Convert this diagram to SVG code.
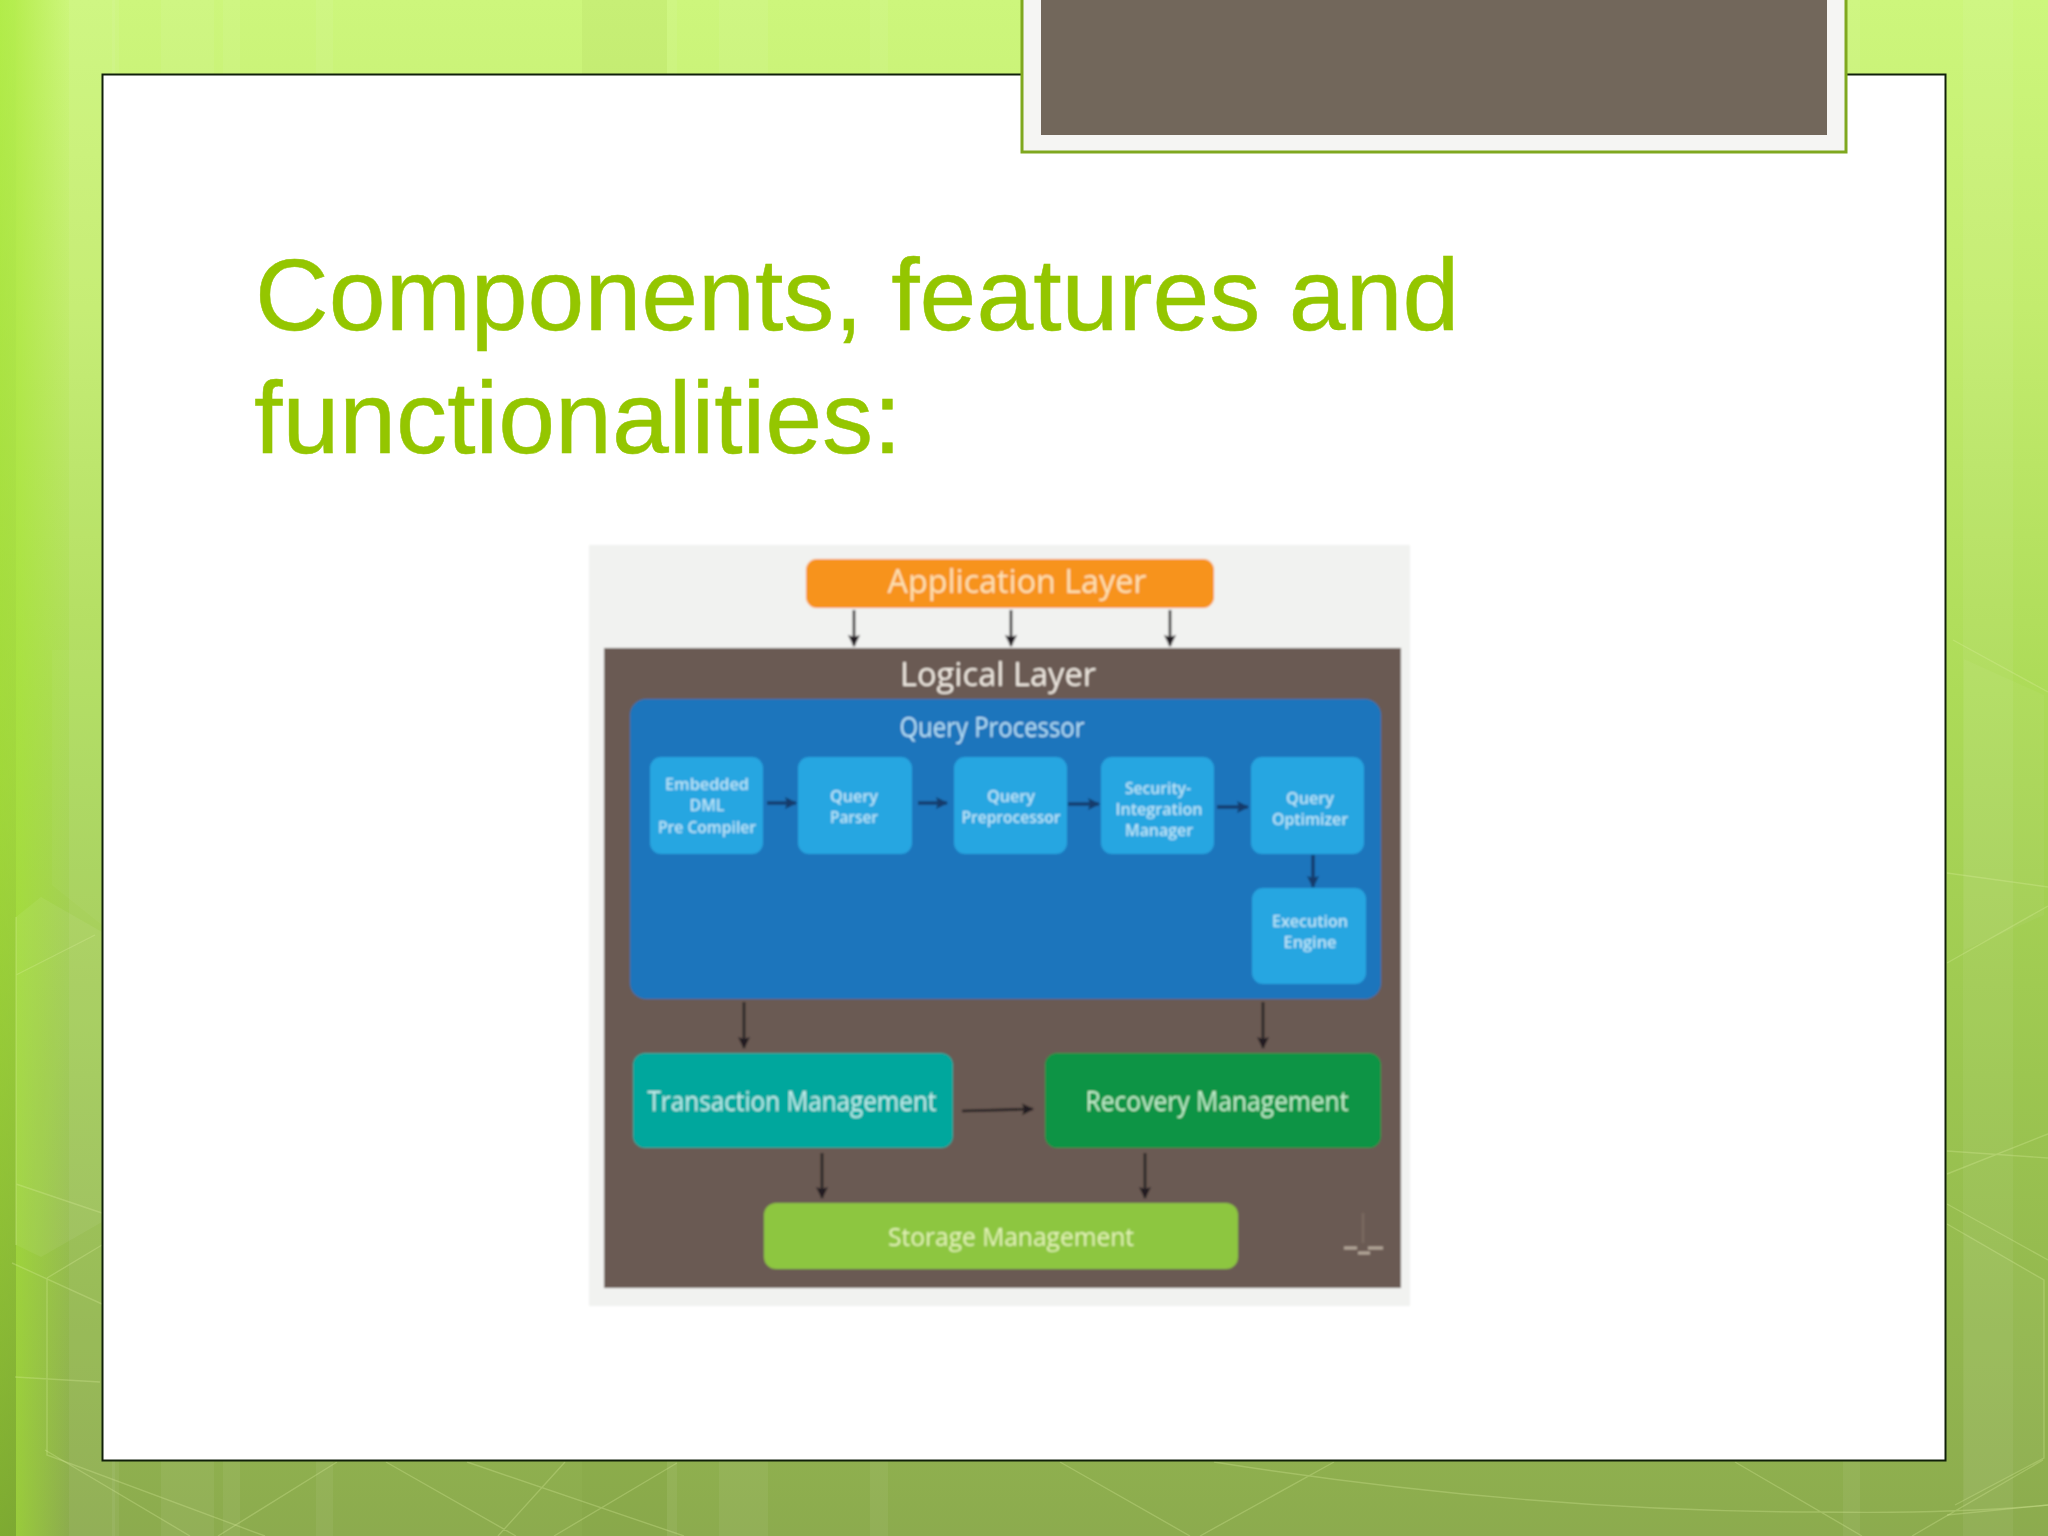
<svg xmlns="http://www.w3.org/2000/svg" width="2048" height="1536" viewBox="0 0 2048 1536">
<style>
text{font-family:"Open Sans","Liberation Sans",sans-serif;text-anchor:middle}
.title{font-family:"Liberation Sans",Arial,sans-serif;font-size:102.2px;fill:#94c600;stroke:#94c600;stroke-width:.5;text-anchor:start}
.sm{font-size:17px;font-weight:600;fill:#bde6f8}
.box{fill:#27a6e1}
.a{stroke:#231f20;stroke-width:2.6;fill:none;marker-end:url(#ah)}
.b{stroke:#123a6b;stroke-width:3.4;fill:none;marker-end:url(#ab)}
.bl{fill:#fff;opacity:.055}
.dk{fill:#5a7a10;opacity:.05}
.ln{stroke:#dff2a0;stroke-width:1.4;fill:none;opacity:.28}
</style>
<defs>
<linearGradient id="bg" x1="0" y1="0" x2="0" y2="1">
<stop offset="0" stop-color="#cdf67c"/><stop offset=".2" stop-color="#c3ec6e"/><stop offset=".45" stop-color="#addb58"/><stop offset=".7" stop-color="#9cc650"/><stop offset="1" stop-color="#8cab4e"/>
</linearGradient>
<linearGradient id="lf" x1="0" y1="0" x2="1" y2="0">
<stop offset="0" stop-color="#a4e62c" stop-opacity=".7"/><stop offset="1" stop-color="#a4e62c" stop-opacity="0"/>
</linearGradient>
<linearGradient id="ls" x1="0" y1="0" x2="0" y2="1">
<stop offset="0" stop-color="#b4ee50" stop-opacity=".5"/><stop offset=".5" stop-color="#9ccf3c" stop-opacity=".5"/><stop offset="1" stop-color="#76a030" stop-opacity=".8"/>
</linearGradient>
<marker id="ah" markerUnits="userSpaceOnUse" markerWidth="12" markerHeight="14" refX="11" refY="6" orient="auto"><path d="M0 0L12 6L0 12L2 6Z" fill="#231f20"/></marker>
<marker id="ab" markerUnits="userSpaceOnUse" markerWidth="12" markerHeight="14" refX="11" refY="6" orient="auto"><path d="M0 0L12 6L0 12L2 6Z" fill="#123a6b"/></marker>
<filter id="soft" x="-2%" y="-2%" width="104%" height="104%"><feGaussianBlur stdDeviation="1"/></filter>
</defs>

<g id="background">
<rect width="2048" height="1536" fill="url(#bg)"/>
<rect width="70" height="1536" fill="url(#lf)"/>
<rect x="0" width="16" height="1536" fill="url(#ls)"/>
<rect x="69" width="46" height="1536" class="bl"/>
<rect x="112" width="7" height="1536" class="bl"/>
<rect x="161" width="53" height="1536" class="bl"/>
<rect x="223" width="17" height="1536" class="bl"/>
<rect x="316" width="17" height="1536" class="bl"/>
<rect x="582" width="85" height="1536" class="dk"/>
<rect x="667" width="10" height="1536" class="bl"/>
<rect x="719" width="49" height="1536" class="bl"/>
<rect x="870" width="18" height="1536" class="bl"/>
<rect x="1843" width="17" height="1536" class="bl"/>
<rect x="1963" width="50" height="1536" class="bl"/>
<polygon points="16,917 41,897 102,932 102,1222 41,1257 16,1245" fill="#fff" opacity=".06"/>
<polygon points="52,885 52,650 102,650 102,925" fill="#fff" opacity=".03"/>
<polygon points="1964,659 2044,695 2044,915 1964,950" fill="#fff" opacity=".04"/>
<polygon points="1964,1232 2044,1280 2044,1458 1964,1500" fill="#fff" opacity=".03"/>
<path class="ln" d="M16 975L95 935M16 1184L102 1213M12 1263L102 1304M47 1278L102 1245M47 1278V1455L265 1536M15 1377L100 1382M16 917V1245"/>
<path class="ln" d="M1953 640L2048 692M1947 873L2048 887M1947 963L2048 906M1947 1151L2048 1158M1947 1174L2048 1134M1947 1204L2048 1260M1947 1224L2044 1280V1458L1955 1505M1947 1515L2048 1505"/>
<path class="ln" d="M45 1450L190 1536M337 1462L218 1536M386 1462L516 1536M467 1462L684 1536M565 1462L498 1536M677 1463L554 1536M1060 1462L1190 1536M1334 1462L1200 1536M1735 1462L1862 1536M2043 1460L1912 1536M1214 1462Q1530 1512 1822 1512Q1950 1514 2048 1505"/>
</g>

<g id="slide"><rect x="102.500" y="74.500" width="1843" height="1386" fill="#fff" stroke="#10200a" stroke-width="2"/></g>

<g id="title-tab">
<rect x="1022" y="-10" width="824" height="162" fill="#f5f5f3" stroke="#7fa81f" stroke-width="3"/>
<rect x="1041" y="-10" width="786" height="145" fill="#72675b"/>
</g>

<g id="title">
<text class="title" x="255" y="330">Components, features and</text>
<text class="title" x="254" y="453">functionalities:</text>
</g>

<g id="diagram" filter="url(#soft)">
<g id="panel"><rect x="589" y="545" width="821" height="761" fill="#f1f2f0"/></g>
<g id="application-layer"><rect x="806" y="559" width="408" height="49" rx="11" fill="#f7931e"/><text x="1017" y="593" font-size="32" fill="#fde3b5" textLength="259" lengthAdjust="spacingAndGlyphs">Application Layer</text></g>
<g id="logical-layer"><rect x="604" y="648" width="797" height="640" fill="#6b5a52"/><text x="998" y="686" font-size="33" fill="#f1ebe3" textLength="196" lengthAdjust="spacingAndGlyphs">Logical Layer</text></g>
<g id="query-processor"><rect x="630" y="699" width="751" height="300" rx="16" fill="#1c75bc"/><text x="992" y="737" font-size="27" fill="#b9e2f7" textLength="185" lengthAdjust="spacingAndGlyphs">Query Processor</text></g>
<g id="embedded-dml"><rect class="box" x="650" y="757" width="113" height="97" rx="11"/><text class="sm" x="707" y="790" textLength="84" lengthAdjust="spacingAndGlyphs">Embedded</text><text class="sm" x="707" y="811" textLength="35" lengthAdjust="spacingAndGlyphs">DML</text><text class="sm" x="707" y="833" textLength="98" lengthAdjust="spacingAndGlyphs">Pre Compiler</text></g>
<g id="query-parser"><rect class="box" x="798" y="757" width="114" height="97" rx="11"/><text class="sm" x="854" y="802" textLength="48" lengthAdjust="spacingAndGlyphs">Query</text><text class="sm" x="854" y="823" textLength="48" lengthAdjust="spacingAndGlyphs">Parser</text></g>
<g id="query-preprocessor"><rect class="box" x="954" y="757" width="113" height="97" rx="11"/><text class="sm" x="1011" y="802" textLength="48" lengthAdjust="spacingAndGlyphs">Query</text><text class="sm" x="1011" y="823" textLength="99" lengthAdjust="spacingAndGlyphs">Preprocessor</text></g>
<g id="security-integration-manager"><rect class="box" x="1101" y="757" width="113" height="97" rx="11"/><text class="sm" x="1158" y="794" textLength="66" lengthAdjust="spacingAndGlyphs">Security-</text><text class="sm" x="1159" y="815" textLength="87" lengthAdjust="spacingAndGlyphs">Integration</text><text class="sm" x="1159" y="836" textLength="68" lengthAdjust="spacingAndGlyphs">Manager</text></g>
<g id="query-optimizer"><rect class="box" x="1251" y="757" width="113" height="97" rx="11"/><text class="sm" x="1310" y="804" textLength="48" lengthAdjust="spacingAndGlyphs">Query</text><text class="sm" x="1310" y="825" textLength="76" lengthAdjust="spacingAndGlyphs">Optimizer</text></g>
<g id="execution-engine"><rect class="box" x="1252" y="888" width="114" height="96" rx="11"/><text class="sm" x="1310" y="927" textLength="76" lengthAdjust="spacingAndGlyphs">Execution</text><text class="sm" x="1310" y="948" textLength="53" lengthAdjust="spacingAndGlyphs">Engine</text></g>
<g id="transaction-management"><rect x="633" y="1053" width="320" height="95" rx="12" fill="#00a79d"/><text x="792" y="1111" font-size="27" fill="#c3efee" textLength="289" lengthAdjust="spacingAndGlyphs">Transaction Management</text></g>
<g id="recovery-management"><rect x="1045" y="1053" width="336" height="95" rx="12" fill="#0a9444"/><text x="1217" y="1111" font-size="27" fill="#c6f0cf" textLength="263" lengthAdjust="spacingAndGlyphs">Recovery Management</text></g>
<g id="storage-management"><rect x="764" y="1203" width="474" height="66" rx="12" fill="#8dc63f"/><text x="1011" y="1246" font-size="25" fill="#e5f3b8" textLength="246" lengthAdjust="spacingAndGlyphs">Storage Management</text></g>
<g id="connectors">
<path class="a" d="M854 610V646"/><path class="a" d="M1011 610V646"/><path class="a" d="M1170 610V646"/>
<path class="b" d="M767 803H796"/><path class="b" d="M918 803H947"/><path class="b" d="M1068 804H1099"/><path class="b" d="M1217 807H1248"/><path class="b" d="M1313 855V887"/>
<path class="a" d="M744 1002V1048"/><path class="a" d="M1263 1002V1048"/>
<path class="a" d="M962 1111L1033 1109"/>
<path class="a" d="M822 1153V1198"/><path class="a" d="M1145 1153V1198"/>
</g>
<g id="mark" stroke="#cfc4b4" fill="none" opacity=".75"><path d="M1344 1248H1357M1368 1248H1383M1358 1253H1370" stroke-width="3"/><path d="M1363 1213V1243" stroke-width="1.500" opacity=".3"/></g>
</g>
</svg>
